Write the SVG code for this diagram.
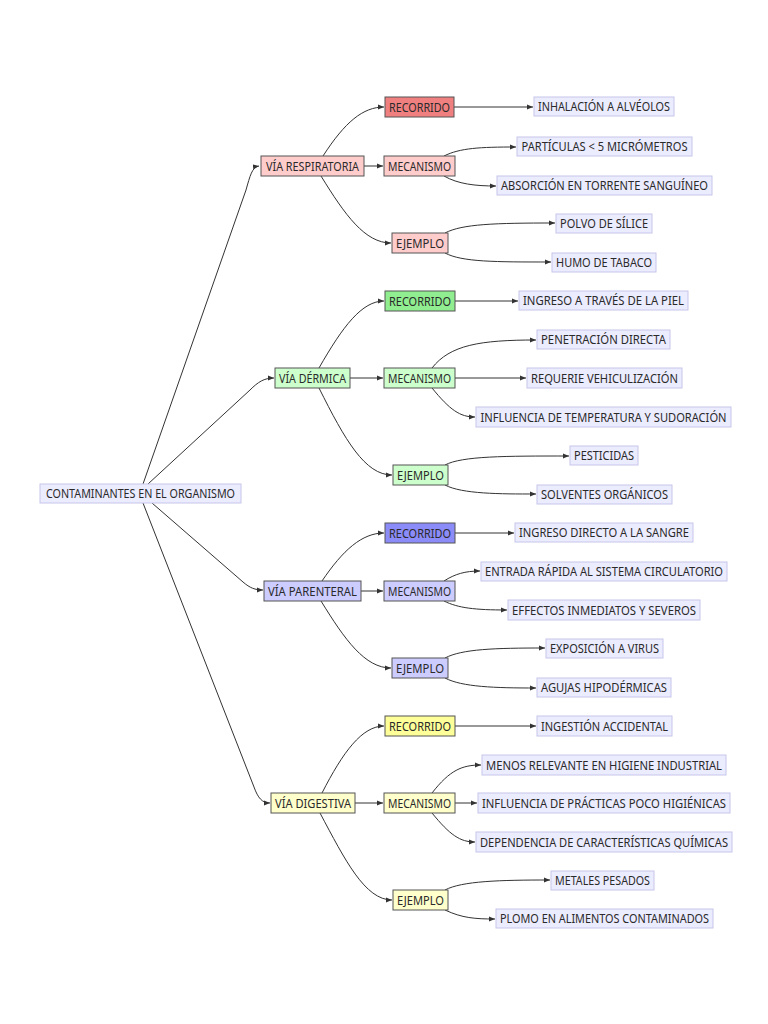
<svg xmlns="http://www.w3.org/2000/svg" width="768" height="1024" viewBox="0 0 768 1024">
<defs>
<marker id="ah" viewBox="0 0 10 10" refX="10" refY="5" markerUnits="userSpaceOnUse" markerWidth="6" markerHeight="6" orient="auto">
<path d="M0,1 L10,5 L0,9 z" fill="#333"/>
</marker>
<style>
rect{stroke-width:1}
.leaf rect{fill:#ececff;stroke:#c6c6ea}
.r1 rect{fill:#ffcccc;stroke:#555}
.r2 rect{fill:#f08080;stroke:#555}
.g1 rect{fill:#ccffcc;stroke:#555}
.g2 rect{fill:#90ee90;stroke:#555}
.b1 rect{fill:#ccccff;stroke:#555}
.b2 rect{fill:#8c8cf8;stroke:#555}
.y1 rect{fill:#ffffcc;stroke:#555}
.y2 rect{fill:#ffff99;stroke:#555}
text{font-family:"Noto Sans","DejaVu Sans",sans-serif;font-size:12px;fill:#2a2a2a;text-anchor:middle}
#edges path{fill:none;stroke:#333;stroke-width:1;marker-end:url(#ah)}
</style>
</defs>
<rect width="768" height="1024" fill="#fff"/>
<g id="edges">
<path d="M143 484 L246 190 C250 176 252 167 259 166"/>
<path d="M148 484 L250 390 C258 382 264 378 274 378"/>
<path d="M152 503 L243 582 C250 588 255 590 263 590"/>
<path d="M143 503 L254 787 C258 798 262 803 270 803"/>

<path d="M323 156 C345 122 363 107 384 107"/>
<path d="M364 166 L383 166"/>
<path d="M321 176 C345 215 365 243 391 243"/>
<path d="M454 107 L533 107"/>
<path d="M444 156 C460 148 480 147 516 147"/>
<path d="M444 176 C458 184 475 186 496 186"/>
<path d="M445 233 C462 224 495 223 555 223"/>
<path d="M445 253 C462 262 495 262 551 262"/>

<path d="M319 368 C343 326 362 301 384 301"/>
<path d="M350 378 L383 378"/>
<path d="M319 388 C345 440 365 475 392 475"/>
<path d="M455 301 L518 301"/>
<path d="M432 368 C450 345 480 340 536 340"/>
<path d="M455 378 L526 378"/>
<path d="M432 388 C450 410 460 417 475 417"/>
<path d="M445 465 C462 456 505 456 569 456"/>
<path d="M445 485 C462 494 500 494 536 494"/>

<path d="M322 581 C343 550 362 533 384 533"/>
<path d="M361 591 L383 591"/>
<path d="M321 601 C345 640 365 668 391 668"/>
<path d="M455 533 L514 533"/>
<path d="M444 581 C455 574 465 571 480 571"/>
<path d="M444 601 C458 608 475 610 507 610"/>
<path d="M445 658 C462 649 495 648 545 648"/>
<path d="M445 678 C462 687 495 688 536 688"/>

<path d="M322 793 C343 752 362 726 384 726"/>
<path d="M355 803 L383 803"/>
<path d="M320 813 C345 860 365 900 392 900"/>
<path d="M455 726 L536 726"/>
<path d="M432 793 C450 770 462 765 481 765"/>
<path d="M455 803 L477 803"/>
<path d="M432 813 C450 835 460 842 475 842"/>
<path d="M445 890 C462 881 500 880 550 880"/>
<path d="M445 910 C462 918 475 919 495 919"/>
</g>

<g id="root" class="leaf"><rect x="40" y="484" width="201" height="19"/><text x="140.5" y="498" textLength="189" lengthAdjust="spacingAndGlyphs">CONTAMINANTES EN EL ORGANISMO</text></g>

<g id="resp" class="r1"><rect x="261" y="156" width="103" height="20"/><text x="312.5" y="170.5" textLength="93" lengthAdjust="spacingAndGlyphs">VÍA RESPIRATORIA</text></g>
<g id="resp_rec" class="r2"><rect x="385" y="97" width="69" height="20"/><text x="419.5" y="111.5" textLength="61" lengthAdjust="spacingAndGlyphs">RECORRIDO</text></g>
<g id="resp_mec" class="r1"><rect x="384" y="156" width="71" height="20"/><text x="419.5" y="170.5" textLength="63" lengthAdjust="spacingAndGlyphs">MECANISMO</text></g>
<g id="resp_ej" class="r1"><rect x="392" y="233" width="56" height="20"/><text x="420" y="247.5" textLength="48" lengthAdjust="spacingAndGlyphs">EJEMPLO</text></g>
<g id="resp_l1" class="leaf"><rect x="534" y="97" width="140" height="19"/><text x="604" y="111" textLength="132" lengthAdjust="spacingAndGlyphs">INHALACIÓN A ALVÉOLOS</text></g>
<g id="resp_l2" class="leaf"><rect x="517" y="137" width="175" height="19"/><text x="604.5" y="151" textLength="166" lengthAdjust="spacingAndGlyphs">PARTÍCULAS &lt; 5 MICRÓMETROS</text></g>
<g id="resp_l3" class="leaf"><rect x="497" y="176" width="215" height="19"/><text x="604.5" y="190" textLength="207" lengthAdjust="spacingAndGlyphs">ABSORCIÓN EN TORRENTE SANGUÍNEO</text></g>
<g id="resp_l4" class="leaf"><rect x="556" y="214" width="96" height="19"/><text x="604" y="228" textLength="88" lengthAdjust="spacingAndGlyphs">POLVO DE SÍLICE</text></g>
<g id="resp_l5" class="leaf"><rect x="552" y="253" width="104" height="19"/><text x="604" y="267" textLength="96" lengthAdjust="spacingAndGlyphs">HUMO DE TABACO</text></g>

<g id="derm" class="g1"><rect x="275" y="368" width="75" height="20"/><text x="312.5" y="382.5" textLength="67" lengthAdjust="spacingAndGlyphs">VÍA DÉRMICA</text></g>
<g id="derm_rec" class="g2"><rect x="385" y="291" width="70" height="20"/><text x="420" y="305.5" textLength="62" lengthAdjust="spacingAndGlyphs">RECORRIDO</text></g>
<g id="derm_mec" class="g1"><rect x="384" y="368" width="71" height="20"/><text x="419.5" y="382.5" textLength="63" lengthAdjust="spacingAndGlyphs">MECANISMO</text></g>
<g id="derm_ej" class="g1"><rect x="393" y="465" width="55" height="20"/><text x="420.5" y="479.5" textLength="47" lengthAdjust="spacingAndGlyphs">EJEMPLO</text></g>
<g id="derm_l1" class="leaf"><rect x="519" y="291" width="169" height="19"/><text x="603.5" y="305" textLength="161" lengthAdjust="spacingAndGlyphs">INGRESO A TRAVÉS DE LA PIEL</text></g>
<g id="derm_l2" class="leaf"><rect x="537" y="330" width="133" height="19"/><text x="603.5" y="344" textLength="125" lengthAdjust="spacingAndGlyphs">PENETRACIÓN DIRECTA</text></g>
<g id="derm_l3" class="leaf"><rect x="527" y="368" width="155" height="20"/><text x="604.5" y="382.5" textLength="147" lengthAdjust="spacingAndGlyphs">REQUERIE VEHICULIZACIÓN</text></g>
<g id="derm_l4" class="leaf"><rect x="476" y="407" width="255" height="20"/><text x="603.5" y="421.5" textLength="246" lengthAdjust="spacingAndGlyphs">INFLUENCIA DE TEMPERATURA Y SUDORACIÓN</text></g>
<g id="derm_l5" class="leaf"><rect x="570" y="446" width="68" height="19"/><text x="604" y="460" textLength="60" lengthAdjust="spacingAndGlyphs">PESTICIDAS</text></g>
<g id="derm_l6" class="leaf"><rect x="537" y="485" width="135" height="19"/><text x="604.5" y="499" textLength="127" lengthAdjust="spacingAndGlyphs">SOLVENTES ORGÁNICOS</text></g>

<g id="par" class="b1"><rect x="264" y="581" width="97" height="20"/><text x="312.5" y="595.5" textLength="89" lengthAdjust="spacingAndGlyphs">VÍA PARENTERAL</text></g>
<g id="par_rec" class="b2"><rect x="385" y="523" width="70" height="20"/><text x="420" y="537.5" textLength="62" lengthAdjust="spacingAndGlyphs">RECORRIDO</text></g>
<g id="par_mec" class="b1"><rect x="384" y="581" width="71" height="20"/><text x="419.5" y="595.5" textLength="63" lengthAdjust="spacingAndGlyphs">MECANISMO</text></g>
<g id="par_ej" class="b1"><rect x="392" y="658" width="56" height="20"/><text x="420" y="672.5" textLength="48" lengthAdjust="spacingAndGlyphs">EJEMPLO</text></g>
<g id="par_l1" class="leaf"><rect x="515" y="523" width="178" height="19"/><text x="604" y="537" textLength="170" lengthAdjust="spacingAndGlyphs">INGRESO DIRECTO A LA SANGRE</text></g>
<g id="par_l2" class="leaf"><rect x="481" y="562" width="246" height="19"/><text x="604" y="576" textLength="238" lengthAdjust="spacingAndGlyphs">ENTRADA RÁPIDA AL SISTEMA CIRCULATORIO</text></g>
<g id="par_l3" class="leaf"><rect x="508" y="600" width="192" height="20"/><text x="604" y="614.5" textLength="184" lengthAdjust="spacingAndGlyphs">EFFECTOS INMEDIATOS Y SEVEROS</text></g>
<g id="par_l4" class="leaf"><rect x="546" y="639" width="117" height="19"/><text x="604.5" y="653" textLength="109" lengthAdjust="spacingAndGlyphs">EXPOSICIÓN A VIRUS</text></g>
<g id="par_l5" class="leaf"><rect x="537" y="678" width="134" height="19"/><text x="604" y="692" textLength="126" lengthAdjust="spacingAndGlyphs">AGUJAS HIPODÉRMICAS</text></g>

<g id="dig" class="y1"><rect x="271" y="793" width="84" height="20"/><text x="313" y="807.5" textLength="76" lengthAdjust="spacingAndGlyphs">VÍA DIGESTIVA</text></g>
<g id="dig_rec" class="y2"><rect x="385" y="716" width="70" height="20"/><text x="420" y="730.5" textLength="62" lengthAdjust="spacingAndGlyphs">RECORRIDO</text></g>
<g id="dig_mec" class="y1"><rect x="384" y="793" width="71" height="20"/><text x="419.5" y="807.5" textLength="63" lengthAdjust="spacingAndGlyphs">MECANISMO</text></g>
<g id="dig_ej" class="y1"><rect x="393" y="890" width="55" height="20"/><text x="420.5" y="904.5" textLength="47" lengthAdjust="spacingAndGlyphs">EJEMPLO</text></g>
<g id="dig_l1" class="leaf"><rect x="537" y="716" width="135" height="20"/><text x="604.5" y="730.5" textLength="127" lengthAdjust="spacingAndGlyphs">INGESTIÓN ACCIDENTAL</text></g>
<g id="dig_l2" class="leaf"><rect x="482" y="755" width="244" height="20"/><text x="604" y="769.5" textLength="236" lengthAdjust="spacingAndGlyphs">MENOS RELEVANTE EN HIGIENE INDUSTRIAL</text></g>
<g id="dig_l3" class="leaf"><rect x="478" y="793" width="252" height="20"/><text x="604" y="807.5" textLength="244" lengthAdjust="spacingAndGlyphs">INFLUENCIA DE PRÁCTICAS POCO HIGIÉNICAS</text></g>
<g id="dig_l4" class="leaf"><rect x="476" y="832" width="256" height="20"/><text x="604" y="846.5" textLength="248" lengthAdjust="spacingAndGlyphs">DEPENDENCIA DE CARACTERÍSTICAS QUÍMICAS</text></g>
<g id="dig_l5" class="leaf"><rect x="551" y="871" width="103" height="19"/><text x="602.5" y="885" textLength="95" lengthAdjust="spacingAndGlyphs">METALES PESADOS</text></g>
<g id="dig_l6" class="leaf"><rect x="496" y="909" width="217" height="19"/><text x="604.5" y="923" textLength="209" lengthAdjust="spacingAndGlyphs">PLOMO EN ALIMENTOS CONTAMINADOS</text></g>
</svg>
